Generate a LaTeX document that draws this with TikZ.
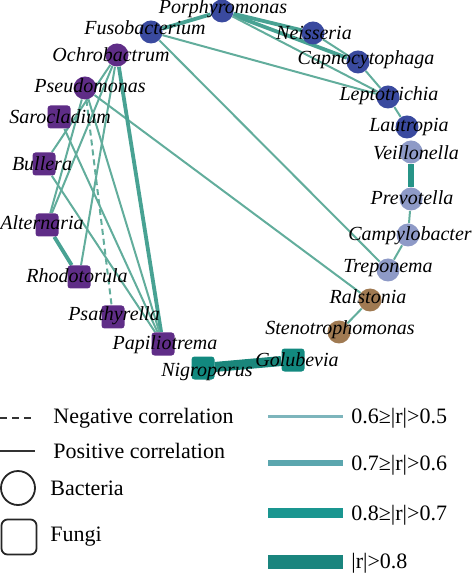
\documentclass[tikz,border=0pt]{standalone}
\usepackage{fontspec}
\setmainfont{Liberation Serif}
\usetikzlibrary{backgrounds}

\definecolor{bacblue}{HTML}{3A4A9F}
\definecolor{baclight}{HTML}{8E9AC7}
\definecolor{bacbrown}{HTML}{A07A52}
\definecolor{fungpurple}{HTML}{5F2D87}
\definecolor{fungteal}{HTML}{12897F}
\definecolor{edgeA}{HTML}{62AD9C}
\definecolor{edgeB}{HTML}{48A293}
\definecolor{edgeC}{HTML}{279487}
\definecolor{edgeD}{HTML}{1A867B}
\definecolor{legA}{HTML}{7DB5BC}
\definecolor{legB}{HTML}{5BA6AE}
\definecolor{legC}{HTML}{1A9690}
\definecolor{legD}{HTML}{1A857E}

\tikzset{
  bac/.style={circle, inner sep=0pt, minimum size=11.5pt},
  fun/.style={rectangle, rounded corners=1.5pt, inner sep=0pt, minimum size=11.5pt},
  lab/.style={font=\fontsize{10}{12}\selectfont\itshape, inner sep=0pt},
  leg/.style={font=\fontsize{11}{13}\selectfont, inner sep=0pt, anchor=west},
  r1/.style={line width=1pt, color=edgeA},
  r2/.style={line width=1.9pt, color=edgeB},
  r3/.style={line width=2.8pt, color=edgeC},
  r4/.style={line width=5pt, color=edgeD},
  neg/.style={dash pattern=on 3pt off 2pt},
}

\begin{document}
\begin{tikzpicture}[x=0.5pt, y=-0.5pt]
\useasboundingbox (0,0) rectangle (474,581);

%%%%%%%%%%%%%%
% Bacteria
%%%%%%%%%%%%%%
  \node[bac, fill=bacblue] (porph) at (222, 11) {};
  \node[bac, fill=bacblue] (fuso)  at (151, 32) {};
  \node[bac, fill=bacblue] (neiss) at (313, 33) {};
  \node[bac, fill=bacblue] (capno) at (358, 62) {};
  \node[bac, fill=bacblue] (lepto) at (388, 97) {};
  \node[bac, fill=bacblue] (lautr) at (407, 127) {};
  \node[bac, fill=baclight] (veill) at (411, 152) {};
  \node[bac, fill=baclight] (prevo) at (411, 199) {};
  \node[bac, fill=baclight] (campy) at (408, 235) {};
  \node[bac, fill=baclight] (trepo) at (388, 270) {};
  \node[bac, fill=bacbrown] (ralst) at (370, 300) {};
  \node[bac, fill=bacbrown] (steno) at (339, 332) {};
  \node[bac, fill=fungpurple] (ochro)  at (117, 55) {};
  \node[bac, fill=fungpurple] (pseudo) at (85, 88) {};

%%%%%%%%%%%%%%
% Fungi
%%%%%%%%%%%%%%
  \node[fun, fill=fungpurple] (saro)  at (59, 117) {};
  \node[fun, fill=fungpurple] (bull)  at (44, 164) {};
  \node[fun, fill=fungpurple] (alter) at (47, 225) {};
  \node[fun, fill=fungpurple] (rhodo) at (79, 277) {};
  \node[fun, fill=fungpurple] (psath) at (113, 317) {};
  \node[fun, fill=fungpurple] (papil) at (163, 344) {};
  \node[fun, fill=fungteal] (nigro) at (203, 368) {};
  \node[fun, fill=fungteal] (golub) at (293, 360) {};

%%%%%%%%%%%%%%
% Correlations
%%%%%%%%%%%%%%
\begin{pgfonlayer}{background}
  % top arc
  \draw[r2] (fuso) -- (porph);
  \draw[r2] (porph) -- (neiss);
  \draw[r2] (porph) -- (capno);
  \draw[r1] (neiss) -- (capno);
  \draw[r1] (porph) -- (lepto);
  \draw[r1] (fuso) -- (lepto);
  \draw[r1] (fuso) -- (trepo);
  \draw[r1] (capno) -- (lepto);
  \draw[r1] (lepto) -- (lautr);

  % right arc
  \draw[r3] (veill) -- (prevo);
  \draw[r1] (prevo) -- (campy);
  \draw[r1] (campy) -- (trepo);
  \draw[r1] (ralst) -- (steno);
  \draw[r1] (pseudo) -- (ralst);

  % left arc
  \draw[r2] (ochro) -- (papil);
  \draw[r1] (ochro) -- (bull);
  \draw[r1] (ochro) -- (alter);
  \draw[r1] (ochro) -- (rhodo);
  \draw[r1] (pseudo) -- (papil);
  \draw[r1] (pseudo) -- (alter);
  \draw[r1, neg] (pseudo) -- (psath);
  \draw[r1] (saro) -- (papil);
  \draw[r1] (bull) -- (papil);
  \draw[r2] (alter) -- (rhodo);

  % bottom
  \draw[r4] (nigro) -- (golub);
\end{pgfonlayer}

%%%%%%%%%%%%%%
% Names
%%%%%%%%%%%%%%
  \node[lab] (tporph)  at (223, 9)   {Porphyromonas};
  \node[lab] (tfuso)   at (145, 28)  {Fusobacterium};
  \node[lab] (tneiss)  at (314, 33)  {Neisseria};
  \node[lab] (tcapno)  at (366, 60)  {Capnocytophaga};
  \node[lab] (tlepto)  at (389, 96)  {Leptotrichia};
  \node[lab] (tlautr)  at (409, 127) {Lautropia};
  \node[lab] (tveill)  at (416, 153) {Veillonella};
  \node[lab] (tprevo)  at (412, 198) {Prevotella};
  \node[lab] (tcampy)  at (410, 236) {Campylobacter};
  \node[lab] (ttrepo)  at (388, 268) {Treponema};
  \node[lab] (tralst)  at (368, 297) {Ralstonia};
  \node[lab] (tsteno)  at (340, 330) {Stenotrophomonas};
  \node[lab] (tochro)  at (111, 55)  {Ochrobactrum};
  \node[lab] (tpseudo) at (90, 86)   {Pseudomonas};
  \node[lab] (tsaro)   at (60, 117)  {Sarocladium};
  \node[lab] (tbull)   at (42, 164)  {Bullera};
  \node[lab] (talter)  at (42, 223)  {Alternaria};
  \node[lab] (trhodo)  at (77, 276)  {Rhodotorula};
  \node[lab] (tpsath)  at (114, 316) {Psathyrella};
  \node[lab] (tpapil)  at (165, 345) {Papiliotrema};
  \node[lab] (tnigro)  at (207, 372) {Nigroporus};
  \node[lab] (tgolub)  at (297, 360) {Golubevia};

%%%%%%%%%%%%%%
% Legend, left
%%%%%%%%%%%%%%
  \coordinate (negA) at (0, 418);
  \coordinate (negB) at (35, 418);
  \draw[line width=0.6pt, black!80, dash pattern=on 3.5pt off 2.5pt] (negA) -- (negB);
  \node[leg] (tneg) at (53, 418) {Negative correlation};

  \coordinate (posA) at (0, 451);
  \coordinate (posB) at (35, 451);
  \draw[line width=0.6pt, black!80] (posA) -- (posB);
  \node[leg] (tpos) at (53, 451) {Positive correlation};

  \node[circle, draw=black!85, line width=0.9pt, minimum size=17pt, inner sep=0pt] (legbac) at (18, 488) {};
  \node[leg] (tbac) at (50, 488) {Bacteria};

  \node[rectangle, rounded corners=3pt, draw=black!85, line width=0.9pt, minimum size=17.5pt, inner sep=0pt] (legfun) at (19, 537) {};
  \node[leg] (tfun) at (50, 537) {Fungi};

%%%%%%%%%%%%%%
% Legend, right
%%%%%%%%%%%%%%
  \coordinate (wA1) at (268, 416);
  \coordinate (wB1) at (343, 416);
  \draw[line width=1.5pt, color=legA] (wA1) -- (wB1);
  \node[leg] (tw1) at (351, 418) {0.6≥|r|>0.5};

  \coordinate (wA2) at (268, 463);
  \coordinate (wB2) at (343, 463);
  \draw[line width=3pt, color=legB] (wA2) -- (wB2);
  \node[leg] (tw2) at (351, 465) {0.7≥|r|>0.6};

  \coordinate (wA3) at (268, 513);
  \coordinate (wB3) at (343, 513);
  \draw[line width=4.8pt, color=legC] (wA3) -- (wB3);
  \node[leg] (tw3) at (351, 515) {0.8≥|r|>0.7};

  \coordinate (wA4) at (268, 562);
  \coordinate (wB4) at (343, 562);
  \draw[line width=6.8pt, color=legD] (wA4) -- (wB4);
  \node[leg] (tw4) at (351, 563) {|r|>0.8};

\end{tikzpicture}
\end{document}
